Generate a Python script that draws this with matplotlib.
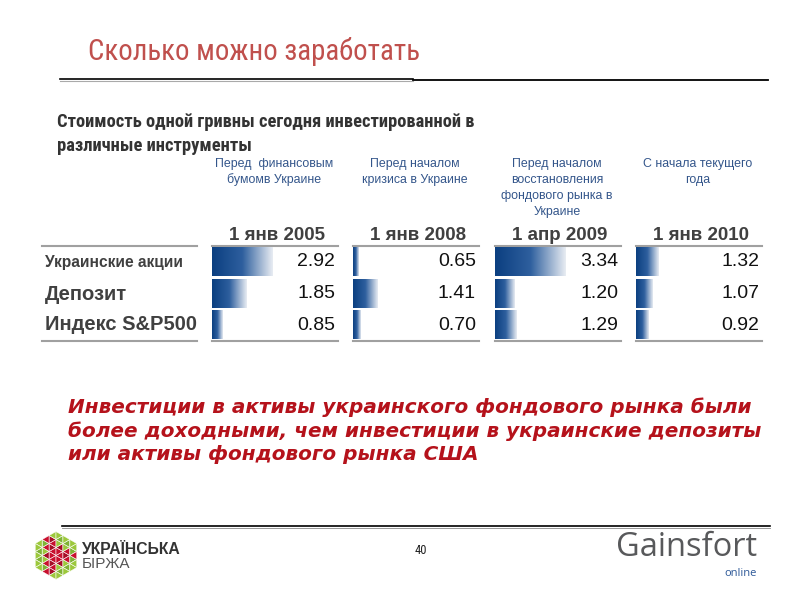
import numpy as np
import matplotlib
matplotlib.use("Agg")
import matplotlib.pyplot as plt
from matplotlib import font_manager
from matplotlib.colors import LinearSegmentedColormap
from matplotlib.patches import Polygon
from matplotlib.path import Path

# Data
periods = ['1 янв 2005', '1 янв 2008', '1 апр 2009', '1 янв 2010']
period_notes = [
    ['Перед  финансовым', 'бумомв Украине'],
    ['Перед началом', 'кризиса в Украине'],
    ['Перед началом', 'восстановления', 'фондового рынка в', 'Украине'],
    ['С начала текущего', 'года'],
]
instruments = ['Украинские акции', 'Депозит', 'Индекс S&P500']
stocks = [2.92, 0.65, 3.34, 1.32]
deposit = [1.85, 1.41, 1.20, 1.07]
sp500 = [0.85, 0.70, 1.29, 0.92]
values = [stocks, deposit, sp500]

title = 'Сколько можно заработать'
subtitle = ['Стоимость одной гривны сегодня инвестированной в',
            'различные инструменты']
conclusion = ['Инвестиции в активы украинского фондового рынка были',
              'более доходными, чем инвестиции в украинские депозиты',
              'или активы фондового рынка США']


def pick_font(names):
    for n in names:
        try:
            font_manager.findfont(n, fallback_to_default=False)
            return n
        except Exception:
            pass
    return 'DejaVu Sans'


narrow = pick_font(['Liberation Sans Narrow', 'Roboto Condensed', 'Liberation Sans'])
sans = pick_font(['Liberation Sans', 'Arial', 'DejaVu Sans'])
opensans = pick_font(['Open Sans', sans])
plt.rcParams['font.family'] = [sans, 'DejaVu Sans']

fig = plt.figure(figsize=(8, 6), dpi=100)
bg = fig.add_axes([0, 0, 1, 1])
bg.set_xlim(0, 800)
bg.set_ylim(600, 0)
bg.axis('off')

# Title and rules
bg.text(88, 52, title, fontsize=20.8, color='#c0504d', family=narrow, va='center')
bg.plot([60, 413], [79, 79], color='black', lw=1.2)
bg.plot([60, 413], [81, 81], color='#aaaaaa', lw=0.8)
bg.plot([413, 768], [80, 80], color='black', lw=1.3)

for k, line in enumerate(subtitle):
    bg.text(57, 122 + 24 * k, line, fontsize=13.3, fontweight='bold',
            color='#333333', family=narrow, va='center')

# Table
col_left = [212, 353, 495, 636]
col_w = 126
top_y, bot_y = 246, 341
row_centers = [263, 294, 325]
label_sizes = [11.2, 14.5, 14.5]

bg.plot([42, 197], [top_y, top_y], color='#a0a0a0', lw=1.5)
bg.plot([42, 197], [bot_y, bot_y], color='#a0a0a0', lw=1.5)
for i, name in enumerate(instruments):
    bg.text(45, row_centers[i], name, fontsize=label_sizes[i], fontweight='bold',
            color='#404040', va='center')

cmap = LinearSegmentedColormap.from_list('bar', ['#0b3f80', '#2e5f9e', '#e9edf3'])
grad = np.linspace(0, 1, 256).reshape(1, -1)
x_min = 0.4
x_max = x_min + col_w / 24.0

for c in range(4):
    x0 = col_left[c]
    cx = x0 + col_w / 2
    for k, line in enumerate(period_notes[c]):
        bg.text(cx - 1, 164 + 16 * k, line, fontsize=8.9, color='#34568b',
                ha='center', va='center')
    bg.text(cx + 2, 235, periods[c], fontsize=13.5, fontweight='bold',
            color='#404040', ha='center', va='center')
    bg.plot([x0, x0 + col_w], [top_y, top_y], color='#a0a0a0', lw=1.5)
    bg.plot([x0, x0 + col_w], [bot_y, bot_y], color='#a0a0a0', lw=1.5)

    ax = fig.add_axes([x0 / 800, 1 - bot_y / 600, col_w / 800, (bot_y - top_y) / 600])
    for i in range(3):
        v = values[i][c]
        ax.imshow(grad, cmap=cmap, aspect='auto',
                  extent=(x_min, v, i + 0.45, i - 0.45), interpolation='bicubic')
        ax.text(x_max - 0.12, i, f'{v:.2f}', fontsize=14, color='#111111',
                ha='right', va='center')
    ax.set_xlim(x_min, x_max)
    ax.set_ylim(2.5, -0.5)
    ax.axis('off')

# Conclusion
for k, line in enumerate(conclusion):
    bg.text(68, 407 + 24 * k, line, fontsize=14.4, fontweight='bold', style='italic',
            color='#b5121b', family='DejaVu Sans', va='center')

# Footer
bg.plot([62, 770], [526, 526], color='black', lw=1.2)
bg.plot([62, 770], [528, 528], color='#888888', lw=0.6)
bg.text(421, 551, '40', fontsize=9, family=narrow, color='#222222',
        ha='center', va='center')

# Exchange logo: hexagon of small triangles with a red "play" shape
hx, hy, R, n = 56, 555.5, 24, 3
ang = np.deg2rad(90 + 60 * np.arange(7))
hv = np.column_stack([hx + R * np.cos(ang), hy - R * np.sin(ang)])
red_path = Path([(hx - 10, hy - 20), (hx - 10, hy + 20), (hx + 20, hy),
                 (hx - 10, hy - 20)])

center = np.array([hx, hy])
for s in range(6):
    u = (hv[s] - center) / n
    w = (hv[s + 1] - center) / n
    for i in range(n):
        for j in range(n - i):
            tris = [[(i, j), (i + 1, j), (i, j + 1)]]
            if i + j <= n - 2:
                tris.append([(i + 1, j), (i, j + 1), (i + 1, j + 1)])
            for t, tri in enumerate(tris):
                pts = np.array([center + a * u + b * w for a, b in tri])
                cen = pts.mean(axis=0)
                if red_path.contains_point(cen):
                    col = '#c8102e' if t == 0 else '#a50e26'
                else:
                    col = '#9cc83c' if t == 0 else '#7fb335'
                bg.add_patch(Polygon(pts, closed=True, facecolor=col,
                                     edgecolor='white', lw=0.4))

bg.text(82, 549, 'УКРАЇНСЬКА', fontsize=11.3, fontweight='bold', color='#333333',
        va='center')
bg.text(82, 564, 'БІРЖА', fontsize=11, color='#555555', va='center')

bg.text(757, 548, 'Gainsfort', fontsize=23.5, color='#58595b', family=opensans,
        ha='right', va='center')
bg.text(757, 573, 'online', fontsize=8, color='#2b5797', family=opensans,
        ha='right', va='center')

fig.savefig('out.png', dpi=100)
